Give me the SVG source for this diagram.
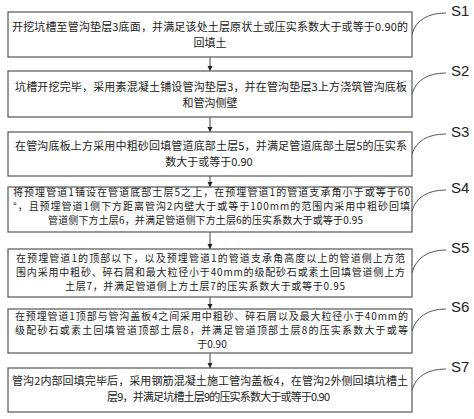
<svg xmlns="http://www.w3.org/2000/svg" width="474" height="419" viewBox="0 0 474 419">
<style>
.box{fill:#fff;stroke:#555;stroke-width:1.2}
.t{font-family:"Noto Sans CJK SC","Liberation Serif",serif;font-size:11px;fill:#222}
.s{font-size:10px}
.c{text-anchor:middle}
.lbl{font-family:"Liberation Sans",Arial,sans-serif;font-size:15px;fill:#222}
.lead{fill:none;stroke:#555;stroke-width:1}
.con{stroke:#444;stroke-width:1;fill:none}
</style>
<defs>
<marker id="ah" markerWidth="6" markerHeight="6" refX="5" refY="3" orient="auto" markerUnits="userSpaceOnUse">
<path d="M0,0.5 L5,3 L0,5.5 Z" fill="#222"/>
</marker>
</defs>
<rect width="474" height="419" fill="#fff"/>
<g id="connectors">
<line class="con" x1="210" y1="57" x2="210" y2="71" marker-end="url(#ah)"/>
<line class="con" x1="210" y1="117" x2="210" y2="132" marker-end="url(#ah)"/>
<line class="con" x1="210" y1="176" x2="210" y2="187" marker-end="url(#ah)"/>
<line class="con" x1="210" y1="232" x2="210" y2="249" marker-end="url(#ah)"/>
<line class="con" x1="210" y1="297" x2="210" y2="309" marker-end="url(#ah)"/>
<line class="con" x1="210" y1="353" x2="210" y2="368" marker-end="url(#ah)"/>
</g>
<g id="S1">
<rect class="box" x="8" y="12" width="404" height="45"/>
<text class="t" x="12" y="31" textLength="396" lengthAdjust="spacing">开挖坑槽至管沟垫层3底面，并满足该处土层原状土或压实系数大于或等于0.90的</text>
<text class="t c" x="210" y="47">回填土</text>
<path class="lead" d="M412,34 C416,20 428,13 446,13"/>
<text class="lbl" x="451" y="16">S1</text>
</g>
<g id="S2">
<rect class="box" x="8" y="71" width="404" height="46"/>
<text class="t" x="15" y="91" textLength="392" lengthAdjust="spacing">坑槽开挖完毕，采用素混凝土铺设管沟垫层3，并在管沟垫层3上方浇筑管沟底板</text>
<text class="t c" x="210" y="107">和管沟侧壁</text>
<path class="lead" d="M412,94 C416,80 428,73 446,73"/>
<text class="lbl" x="451" y="76">S2</text>
</g>
<g id="S3">
<rect class="box" x="8" y="132" width="404" height="44"/>
<text class="t" x="15" y="150" textLength="392" lengthAdjust="spacing">在管沟底板上方采用中粗砂回填管道底部土层5，并满足管道底部土层5的压实系</text>
<text class="t c" x="209" y="166">数大于或等于0.90</text>
<path class="lead" d="M412,154 C416,141 428,134 446,134"/>
<text class="lbl" x="451" y="137">S3</text>
</g>
<g id="S4">
<rect class="box" x="8" y="187" width="404" height="45"/>
<text class="t s" x="13" y="196" textLength="397" lengthAdjust="spacing">将预埋管道1铺设在管道底部土层5之上，在预埋管道1的管道支承角小于或等于60</text>
<text class="t s" x="13" y="210" textLength="397" lengthAdjust="spacing">°，且预埋管道1侧下方距离管沟2内壁大于或等于100mm的范围内采用中粗砂回填</text>
<text class="t s" x="48" y="224" textLength="315" lengthAdjust="spacing">管道侧下方土层6，并满足管道侧下方土层6的压实系数大于或等于0.95</text>
<path class="lead" d="M412,211 C416,197 428,190 446,190"/>
<text class="lbl" x="451" y="193">S4</text>
</g>
<g id="S5">
<rect class="box" x="8" y="249" width="404" height="48"/>
<text class="t s" x="16" y="262" textLength="389" lengthAdjust="spacing">在预埋管道1的顶部以下，以及预埋管道1的管道支承角高度以上的管道侧上方范</text>
<text class="t s" x="16" y="276" textLength="389" lengthAdjust="spacing">围内采用中粗砂、碎石屑和最大粒径小于40mm的级配砂石或素土回填管道侧上方</text>
<text class="t s" x="65" y="290" textLength="280" lengthAdjust="spacing">土层7，并满足管道侧上方土层7的压实系数大于或等于0.95</text>
<path class="lead" d="M412,273 C416,258 428,250 446,250"/>
<text class="lbl" x="451" y="253">S5</text>
</g>
<g id="S6">
<rect class="box" x="8" y="309" width="404" height="44"/>
<text class="t s" x="15" y="320" textLength="393" lengthAdjust="spacing">在预埋管道1顶部与管沟盖板4之间采用中粗砂、碎石屑以及最大粒径小于40mm的</text>
<text class="t s" x="15" y="334" textLength="393" lengthAdjust="spacing">级配砂石或素土回填管道顶部土层8，并满足管道顶部土层8的压实系数大于或等</text>
<text class="t s c" x="212" y="348">于0.90</text>
<path class="lead" d="M412,331 C416,317 428,309 446,309"/>
<text class="lbl" x="451" y="312">S6</text>
</g>
<g id="S7">
<rect class="box" x="8" y="368" width="404" height="44"/>
<text class="t" x="12" y="385" textLength="396" lengthAdjust="spacing">管沟2内部回填完毕后，采用钢筋混凝土施工管沟盖板4，在管沟2外侧回填坑槽土</text>
<text class="t" x="107" y="401" textLength="223" lengthAdjust="spacing">层9，并满足坑槽土层9的压实系数大于或等于0.90</text>
<path class="lead" d="M412,390 C416,376 428,369 446,369"/>
<text class="lbl" x="451" y="372">S7</text>
</g>
</svg>
